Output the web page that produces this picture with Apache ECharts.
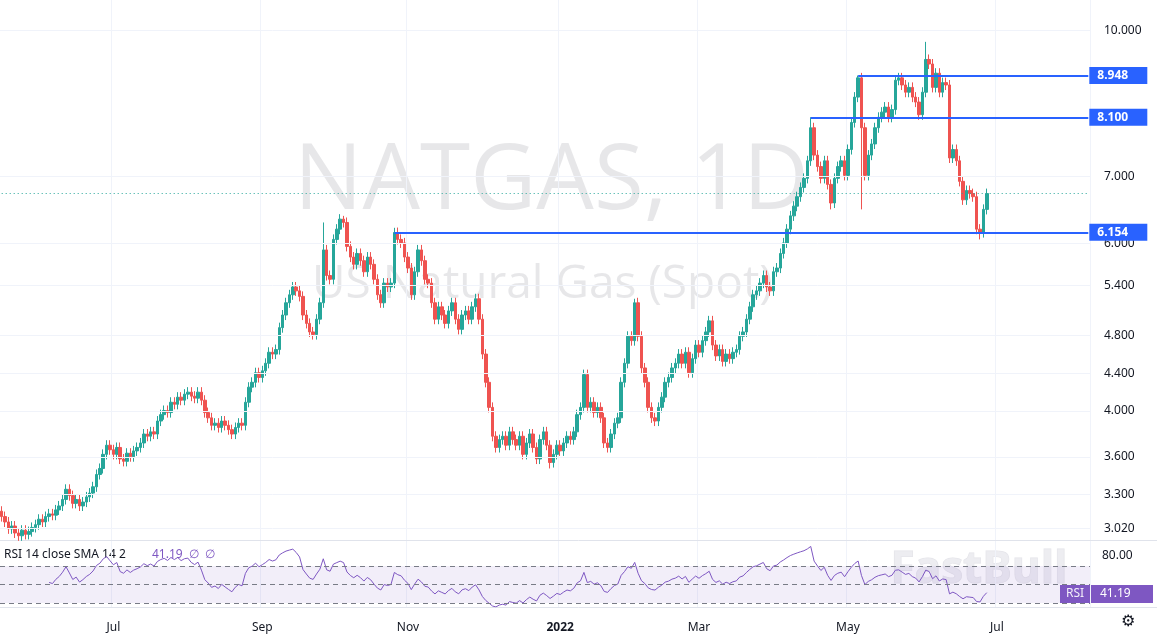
<!DOCTYPE html>
<html><head><meta charset="utf-8">
<script src="https://cdn.jsdelivr.net/npm/echarts@6/dist/echarts.min.js"></script>
<style>html,body{margin:0;padding:0;background:#fff}#c{width:1157px;height:638px}</style>
</head><body><div id="c"></div>
<script>
// Daily closes (US Natural Gas spot), from 2021-05-17
const closes = [
3.12,3.08,3.03,3.05,3.0,2.98,3.02,2.99,3.01,3.04,
3.06,3.1,3.08,3.12,3.14,3.13,3.17,3.2,3.25,3.33,
3.28,3.22,3.25,3.2,3.23,3.27,3.3,3.35,3.45,3.5,
3.62,3.7,3.66,3.62,3.68,3.58,3.56,3.63,3.6,3.65,
3.68,3.72,3.8,3.78,3.82,3.8,3.92,3.98,4.02,4.0,
4.1,4.08,4.15,4.12,4.18,4.2,4.16,4.14,4.2,4.12,
4.0,3.95,3.88,3.9,3.86,3.92,3.88,3.84,3.8,3.86,
3.9,3.88,4.1,4.25,4.3,4.4,4.35,4.42,4.5,4.62,
4.6,4.65,4.9,5.05,5.2,5.3,5.4,5.35,5.28,5.05,
4.95,4.85,4.82,5.0,5.2,5.9,5.55,5.5,6.05,6.2,
6.35,6.3,5.95,5.8,5.7,5.85,5.75,5.6,5.8,5.7,
5.5,5.3,5.2,5.45,5.4,5.45,6.15,6.05,6.0,5.8,
5.65,5.3,5.6,5.9,5.75,5.5,5.45,5.2,5.0,5.15,
5.05,4.95,5.1,5.2,5.0,4.88,5.05,5.1,5.0,5.15,
5.25,5.0,4.6,4.3,4.05,3.78,3.68,3.75,3.78,3.7,
3.82,3.75,3.7,3.78,3.62,3.72,3.8,3.68,3.58,3.75,
3.82,3.7,3.55,3.62,3.7,3.65,3.72,3.78,3.75,3.82,
3.98,4.05,4.38,4.05,4.1,4.0,4.05,3.95,3.72,3.68,
3.8,3.9,3.95,4.3,4.5,4.8,4.75,5.2,4.8,4.45,
4.3,4.05,3.95,3.92,4.05,4.15,4.3,4.35,4.45,4.5,
4.6,4.5,4.62,4.4,4.55,4.7,4.62,4.75,4.85,4.98,
4.7,4.58,4.65,4.52,4.6,4.55,4.62,4.65,4.8,4.85,
5.0,5.15,5.3,5.35,5.45,5.55,5.4,5.35,5.6,5.65,
5.85,6.0,6.2,6.4,6.55,6.7,6.85,7.0,7.3,7.9,
7.4,7.2,7.0,7.3,6.9,6.6,7.0,7.2,7.3,7.05,
7.5,8.0,8.5,8.9,7.9,7.05,7.4,7.6,7.9,8.1,
8.2,8.3,8.1,8.25,8.85,8.9,8.75,8.6,8.7,8.5,
8.4,8.15,8.6,9.3,9.2,8.7,9.0,8.6,8.8,8.75,
7.35,7.5,7.3,6.95,6.65,6.8,6.75,6.7,6.2,6.15,
6.5,6.75];
const firstOpen = 3.16;
// Notable wicks: index -> [high, low]
const wicks = {95:[6.3,null],101:[6.4,null],116:[6.22,null],162:[null,3.5],187:[5.25,null],
  239:[8.1,null],245:[null,6.5],253:[8.95,null],254:[null,6.5],273:[9.7,null],289:[null,6.05]};
const priceTicks = [3.02,3.3,3.6,4.0,4.4,4.8,5.4,6.0,7.0,10.0];
const levels = [{v:8.948,from:253},{v:8.1,from:239},{v:6.154,from:116}];
const lastPrice = 6.75;
const monthLabels = {'2021-07':'Jul','2021-09':'Sep','2021-11':'Nov','2022-01':'{b|2022}','2022-03':'Mar','2022-05':'May','2022-07':'Jul'};
const TOTAL = 322;

const dates=[]; let d=new Date(Date.UTC(2021,4,17));
while(dates.length<TOTAL){const w=d.getUTCDay(); if(w!==0&&w!==6) dates.push(d.toISOString().slice(0,10)); d=new Date(d.getTime()+864e5);}
const monthStart = {}; dates.forEach((s,i)=>{const m=s.slice(0,7); if(monthStart[m]===undefined) monthStart[m]=i;});
const isLabel = i => { const m=dates[i].slice(0,7); return monthLabels[m]!==undefined && monthStart[m]===i; };

const L=Math.log;
const candles = closes.map((c,i)=>{
  const o = i===0?firstOpen:closes[i-1];
  let h=Math.max(o,c)*1.012, l=Math.min(o,c)*0.988;
  if(wicks[i]){ if(wicks[i][0]) h=wicks[i][0]; if(wicks[i][1]) l=wicks[i][1]; }
  return [L(o),L(c),L(l),L(h)];
});
const rsi=new Array(closes.length).fill(null);
let ag=0,al=0;
for(let i=1;i<closes.length;i++){
  const ch=closes[i]-closes[i-1], g=Math.max(ch,0), ls=Math.max(-ch,0);
  if(i<=14){ag+=g/14;al+=ls/14; if(i===14) rsi[i]=100-100/(1+ag/al);}
  else {ag=(ag*13+g)/14; al=(al*13+ls)/14; rsi[i]=100-100/(1+ag/al);}
}
const lastRsi = rsi[rsi.length-1];

const chart=echarts.init(document.getElementById('c'));
const gridColor='#f0f3fa';
const tickLines = priceTicks.map(p=>({yAxis:L(p),label:{formatter:p.toFixed(3)}}));
const levelLines = levels.map(lv=>[{coord:[lv.from,L(lv.v)],label:{formatter:lv.v.toFixed(3)}},{coord:[TOTAL-1,L(lv.v)]}]);
chart.setOption({
  animation:false,
  grid:[{left:0,right:67,top:0,height:540},{left:0,right:67,top:541,height:66}],
  graphic:[
    {type:'text',left:294,top:138,z:0,style:{text:'NATGAS, 1D',font:'91px "Open Sans", sans-serif',fill:'rgba(120,123,134,0.18)'}},
    {type:'text',left:312,top:262,z:0,style:{text:'US Natural Gas (Spot)',font:'46px "Open Sans", sans-serif',fill:'rgba(120,123,134,0.18)'}},
    {type:'text',left:890,top:548,z:0,style:{text:'FastBull',font:'bold 44px "Open Sans", sans-serif',fill:'rgba(235,235,240,0.9)',stroke:'rgba(200,200,210,0.5)',lineWidth:1}},
    {type:'text',left:4,top:549,style:{text:'RSI 14 close SMA 14 2',font:'12px "Noto Sans", sans-serif',fill:'#131722'}},
    {type:'text',left:152,top:549,style:{text:lastRsi.toFixed(2)+'  ∅  ∅',font:'12px "Noto Sans", sans-serif',fill:'#7e57c2'}},
    {type:'line',shape:{x1:0,y1:540.5,x2:1157,y2:540.5},style:{stroke:'#e0e3eb',lineWidth:1}},
    {type:'line',shape:{x1:1090.5,y1:0,x2:1090.5,y2:608},style:{stroke:'#e0e3eb',lineWidth:1}},
    {type:'line',shape:{x1:0,y1:607.5,x2:1157,y2:607.5},style:{stroke:'#e0e3eb',lineWidth:1}},
    {type:'rect',shape:{x:1060,y:585,width:30,height:18},style:{fill:'#7e57c2'}},
    {type:'text',x:1066,y:588,style:{text:'RSI',font:'12px "Noto Sans", sans-serif',fill:'#fff'}},
    {type:'rect',shape:{x:1091,y:585,width:62,height:18},style:{fill:'#7e57c2'}},
    {type:'text',x:1100,y:588,style:{text:lastRsi.toFixed(2),font:'12px "Noto Sans", sans-serif',fill:'#fff'}},
    {type:'text',x:1102,y:550,style:{text:'80.00',font:'12px "Noto Sans", sans-serif',fill:'#131722'}},
    {type:'text',x:1121,y:614,style:{text:'⚙',font:'16px "DejaVu Sans", sans-serif',fill:'#131722'}}
  ],
  xAxis:[
    {type:'category',gridIndex:0,data:dates,boundaryGap:true,axisLine:{show:false},axisTick:{show:false},axisLabel:{show:false},
     splitLine:{show:true,interval:(i)=>isLabel(i),lineStyle:{color:gridColor}}},
    {type:'category',gridIndex:1,data:dates,boundaryGap:true,axisLine:{show:false},axisTick:{show:false},
     axisLabel:{interval:(i)=>isLabel(i),formatter:(v)=>monthLabels[v.slice(0,7)],margin:15,color:'#131722',fontSize:12,fontFamily:'Noto Sans',
       rich:{b:{fontWeight:'bold',fontSize:12,color:'#131722',fontFamily:'Noto Sans'}}},
     splitLine:{show:true,interval:(i)=>isLabel(i),lineStyle:{color:gridColor}}}
  ],
  yAxis:[
    {type:'value',gridIndex:0,min:L(2.95),max:L(10.72),axisLabel:{show:false},splitLine:{show:false},axisLine:{show:false}},
    {type:'value',gridIndex:1,min:25.7,max:97,axisLabel:{show:false},splitLine:{show:false},axisLine:{show:false}}
  ],
  series:[
    {type:'line',xAxisIndex:0,yAxisIndex:0,data:[],silent:true,
     markLine:{symbol:'none',silent:true,lineStyle:{color:gridColor,type:'solid',width:1},
       label:{position:'end',distance:14,color:'#131722',fontSize:12,fontFamily:'Noto Sans'},data:tickLines}},
    {type:'candlestick',xAxisIndex:0,yAxisIndex:0,data:candles,barWidth:3,
     itemStyle:{color:'#26a69a',color0:'#ef5350',borderColor:'#26a69a',borderColor0:'#ef5350',borderWidth:1},
     markLine:{symbol:'none',silent:true,z:5,
       data:[
         [{coord:[0,L(lastPrice)],lineStyle:{color:'#26a69a',type:[1,3],width:1},label:{show:false}},{coord:[TOTAL-1,L(lastPrice)]}],
         ...levelLines.map(p=>[Object.assign({lineStyle:{color:'#2962ff',type:'solid',width:2},
           label:{show:true,position:'end',distance:1,formatter:p[0].label.formatter,backgroundColor:'#2962ff',color:'#fff',fontWeight:'bold',fontSize:12,fontFamily:'Noto Sans',padding:[3,8,2,8],width:42,align:'left'}},{coord:p[0].coord}),p[1]])
       ]}},
    {type:'line',xAxisIndex:1,yAxisIndex:1,data:rsi,symbol:'none',lineStyle:{color:'#7e57c2',width:1},
     markArea:{silent:true,itemStyle:{color:'rgba(126,87,194,0.1)'},data:[[{yAxis:30},{yAxis:70}]]},
     markLine:{symbol:'none',silent:true,label:{show:false},lineStyle:{color:'#787b86',type:[5,4],width:1},data:[{yAxis:70},{yAxis:50},{yAxis:30}]}}
  ]
});
</script></body></html>
